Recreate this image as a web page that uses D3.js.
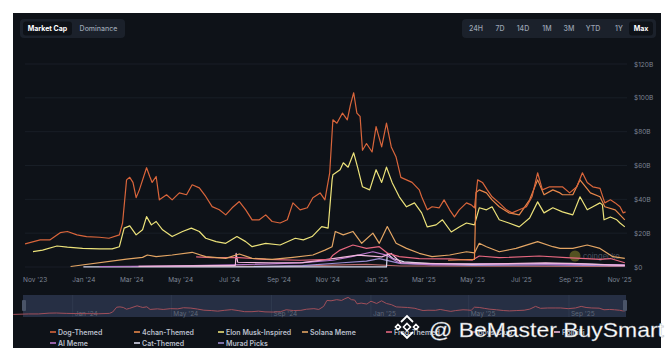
<!DOCTYPE html>
<html><head><meta charset="utf-8">
<script src="https://cdn.jsdelivr.net/npm/d3@7"></script>
<style>body{margin:0;background:#fff;} svg{display:block;font-family:Inter,"Noto Sans",sans-serif;}</style>
</head><body><svg id="c" width="672" height="357"></svg>
<script>
const categories = ["Dog-Themed","4chan-Themed","Elon Musk-Inspired","Solana Meme","Frog-Themed","Boys Club","PolitiFi","AI Meme","Cat-Themed","Murad Picks"];
const colors = ["#d9653b","#e8874a","#ece27a","#e3a564","#e5677f","#b86a6a","#f2b8dc","#b875cc","#d8d8ec","#9b8cd0"];
const rangeButtons = ["24H","7D","14D","1M","3M","YTD","1Y","Max"];
const toggleButtons = ["Market Cap","Dominance"];
const yTicks = [0,20,40,60,80,100,120];

const dogThemed = [["2023-10-20",13.6],["2023-11-08",16],["2023-11-20",16],["2023-12-03",20.3],["2023-12-12",21],["2023-12-24",19],["2024-01-05",18],["2024-01-21",17.6],["2024-02-02",17],["2024-02-15",19],["2024-02-19",26],["2024-02-24",51.5],["2024-02-28",53],["2024-03-03",50],["2024-03-07",41],["2024-03-11",45.6],["2024-03-20",58.7],["2024-03-24",53.5],["2024-03-27",50],["2024-04-01",53.5],["2024-04-05",39.7],["2024-04-14",42.7],["2024-04-21",39.7],["2024-04-30",43.8],["2024-05-09",42.7],["2024-05-16",48.6],["2024-05-25",46.8],["2024-06-02",41.7],["2024-06-10",35.7],["2024-06-19",33.8],["2024-06-27",30.8],["2024-07-05",35],["2024-07-14",38.7],["2024-07-22",33.8],["2024-07-30",27.9],["2024-08-08",27.9],["2024-08-16",30.8],["2024-08-24",26.9],["2024-09-03",26],["2024-09-12",27.9],["2024-09-19",37.9],["2024-09-28",33.8],["2024-10-07",35],["2024-10-14",40.9],["2024-10-23",43.8],["2024-10-29",39.7],["2024-11-04",55.7],["2024-11-08",87],["2024-11-13",85],["2024-11-20",91],["2024-11-26",87],["2024-11-30",96],["2024-12-04",103],["2024-12-08",91],["2024-12-12",89],["2024-12-15",69],["2024-12-20",73],["2024-12-27",68],["2025-01-01",83],["2025-01-08",71],["2025-01-14",85],["2025-01-20",71],["2025-01-26",65],["2025-02-01",53],["2025-02-08",51.5],["2025-02-15",50],["2025-02-24",45.6],["2025-02-27",41.5],["2025-03-06",33.8],["2025-03-12",35.6],["2025-03-21",35],["2025-03-27",39.7],["2025-04-03",33.8],["2025-04-09",29.6],["2025-04-15",33.8],["2025-04-24",37.9],["2025-04-30",36.7],["2025-05-04",35],["2025-05-08",51.5],["2025-05-14",50],["2025-05-20",45.6],["2025-05-26",41.5],["2025-06-04",37.9],["2025-06-13",33.8],["2025-06-20",32],["2025-06-29",33.8],["2025-07-08",35.6],["2025-07-15",41.5],["2025-07-22",55.7],["2025-07-28",45.6],["2025-08-06",47.4],["2025-08-15",47.4],["2025-08-22",47.4],["2025-08-31",43.8],["2025-09-09",47.4],["2025-09-16",55.7],["2025-09-22",50],["2025-09-29",47.4],["2025-10-08",46.5],["2025-10-14",37.9],["2025-10-21",39.7],["2025-10-27",37.9],["2025-11-02",35.6],["2025-11-06",32],["2025-11-09",32.6]];

const fourChanThemed = [["2025-04-01",4],["2025-05-04",4.5],["2025-05-06",44],["2025-05-10",45.6],["2025-05-19",43.8],["2025-05-26",39.7],["2025-06-04",35.6],["2025-06-16",32],["2025-06-29",30.8],["2025-07-12",39.7],["2025-07-22",51.5],["2025-07-30",42.7],["2025-08-10",45.6],["2025-08-19",43.8],["2025-08-22",42.7],["2025-09-04",42.7],["2025-09-13",51.5],["2025-09-26",43.8],["2025-10-08",41.5],["2025-10-14",35.6],["2025-10-27",33.8],["2025-11-08",27.9]];

const elonMusk = [["2023-10-30",9.1],["2023-11-11",10],["2023-11-29",12.4],["2023-12-12",11.7],["2023-12-31",11],["2024-01-21",10.7],["2024-02-06",10.7],["2024-02-15",12],["2024-02-21",23],["2024-02-28",24.3],["2024-03-07",19],["2024-03-15",22],["2024-03-20",29.8],["2024-03-26",24.9],["2024-04-01",26.9],["2024-04-09",22],["2024-04-21",18],["2024-05-04",21],["2024-05-15",23],["2024-05-25",21],["2024-06-02",17],["2024-06-15",15],["2024-06-27",14],["2024-07-11",18],["2024-07-22",15],["2024-07-30",12],["2024-08-16",14],["2024-09-03",13],["2024-09-22",17],["2024-10-02",16],["2024-10-13",18],["2024-10-25",23.9],["2024-11-02",23],["2024-11-07",51.5],["2024-11-08",54.5],["2024-11-17",57.5],["2024-11-21",61.6],["2024-11-27",59],["2024-12-04",67.5],["2024-12-09",58.7],["2024-12-15",47.4],["2024-12-24",45.6],["2025-01-01",57.5],["2025-01-08",50],["2025-01-14",59],["2025-01-21",50],["2025-01-30",41.5],["2025-02-08",35.6],["2025-02-18",37.9],["2025-02-27",32],["2025-03-06",23.7],["2025-03-17",24.9],["2025-03-25",27.9],["2025-04-05",20.7],["2025-04-15",23.7],["2025-04-24",26],["2025-05-04",24.9],["2025-05-10",35],["2025-05-19",33.8],["2025-05-26",35.6],["2025-06-04",27.9],["2025-06-16",26],["2025-06-29",23.7],["2025-07-12",29],["2025-07-22",38.5],["2025-07-30",32],["2025-08-10",35],["2025-08-22",32.6],["2025-09-04",30.8],["2025-09-13",41.5],["2025-09-22",33.8],["2025-09-29",35.6],["2025-10-08",37.9],["2025-10-11",36.7],["2025-10-13",27.9],["2025-10-21",29.6],["2025-10-29",27.9],["2025-11-02",26],["2025-11-08",23.7]];

const solanaMeme = [["2023-12-16",0.3],["2024-02-24",4.7],["2024-03-15",5.7],["2024-03-21",7.1],["2024-04-01",6.1],["2024-04-21",7.1],["2024-05-16",8.7],["2024-06-02",6.1],["2024-06-27",5.1],["2024-07-14",7.7],["2024-07-30",5.1],["2024-08-24",4.5],["2024-09-19",5.7],["2024-10-14",7.1],["2024-10-29",10],["2024-11-07",12],["2024-11-11",21],["2024-11-21",19],["2024-12-03",21],["2024-12-14",14],["2024-12-28",20],["2025-01-05",14],["2025-01-15",23.9],["2025-01-26",14],["2025-02-08",11],["2025-02-24",8.1],["2025-03-12",6.1],["2025-04-03",7.1],["2025-04-24",9],["2025-05-04",8.3],["2025-05-10",14],["2025-05-19",12],["2025-06-04",9],["2025-06-25",11],["2025-07-22",15],["2025-08-10",12],["2025-08-19",11],["2025-09-04",11],["2025-09-22",13],["2025-10-08",11],["2025-10-24",6.1],["2025-11-08",5.1]];

const frogThemed = [["2024-05-21",6],["2024-06-10",5.5],["2024-07-14",5.5],["2024-08-16",4.5],["2024-09-28",4],["2024-11-04",4.5],["2024-11-08",7],["2024-11-17",10],["2024-12-03",13],["2024-12-20",11],["2025-01-05",12],["2025-01-15",8.3],["2025-01-30",6.1],["2025-02-24",5],["2025-04-03",4.8],["2025-05-01",4],["2025-05-10",6.5],["2025-06-04",5.5],["2025-07-24",6.5],["2025-08-27",5.5],["2025-10-08",4.5],["2025-10-21",5],["2025-11-08",2.5]];

const boysClub = [["2024-03-01",0.3],["2024-06-01",0.5],["2024-09-01",0.4],["2024-11-20",1.2],["2024-12-20",1.5],["2025-02-01",0.6],["2025-06-01",0.5],["2025-11-08",0.3]];

const politiFi = [["2024-03-10",0.4],["2024-07-09",1],["2024-07-10",8],["2024-07-12",2.8],["2024-08-20",2.5],["2024-10-01",2.6],["2024-11-08",5],["2024-12-09",7],["2025-01-08",6],["2025-01-20",8],["2025-02-01",2.5],["2025-05-01",1.5],["2025-08-01",2.5],["2025-11-08",1]];

const aiMeme = [["2024-01-21",0.3],["2024-04-14",0.6],["2024-07-05",1.2],["2024-09-28",2.4],["2024-11-08",4],["2024-11-30",6],["2024-12-28",9],["2025-01-14",7],["2025-01-30",2.4],["2025-03-12",1.2],["2025-06-04",1.8],["2025-09-01",1.5],["2025-11-08",1.2]];

const catThemed = [["2024-01-01",0.05],["2025-01-14",0.05],["2025-01-15",8],["2025-01-22",5],["2025-02-05",3],["2025-03-10",2],["2025-06-01",1.8],["2025-09-01",2.2],["2025-11-08",1]];

const muradPicks = [["2024-08-01",0.3],["2024-10-01",0.8],["2024-11-20",2.5],["2024-12-20",3.5],["2025-01-05",5],["2025-02-01",2],["2025-05-01",1],["2025-08-01",1.3],["2025-11-08",0.6]];

const seriesData = [dogThemed,fourChanThemed,elonMusk,solanaMeme,frogThemed,boysClub,politiFi,aiMeme,catThemed,muradPicks];
const drawOrder = [5,9,8,7,6,4,3,2,1,0];

const parse = d3.timeParse("%Y-%m-%d");
const series = seriesData.map((arr,i)=>({name:categories[i],color:colors[i],pts:arr.map(d=>({date:parse(d[0]),v:d[1]}))}));

const svg = d3.select("#c");
svg.append("rect").attr("x",13).attr("y",13).attr("width",648).attr("height",335).attr("fill","#0e1218");

// toggle group
const tg = svg.append("g");
tg.append("rect").attr("x",20).attr("y",19).attr("width",105).attr("height",19).attr("rx",4).attr("fill","#1b212b");
tg.append("rect").attr("x",23).attr("y",21.5).attr("width",49).attr("height",14).attr("rx",3).attr("fill","#0e1218");
[[47.5,"#ffffff",700],[98.5,"#9aa3b2",500]].forEach((p,i)=>{
  tg.append("text").attr("x",p[0]).attr("y",31).attr("text-anchor","middle").attr("font-size",7).attr("font-weight",p[2]).attr("fill",p[1]).text(toggleButtons[i]);
});

// range buttons
const rg = svg.append("g");
rg.append("rect").attr("x",462).attr("y",19).attr("width",194).attr("height",19).attr("rx",4).attr("fill","#1b212b");
rg.append("rect").attr("x",629).attr("y",21.5).attr("width",24).attr("height",14).attr("rx",3).attr("fill","#0e1218");
const btnX = [476,500,523,547,569,593,619,641];
rangeButtons.forEach((b,i)=>{
  rg.append("text").attr("x",btnX[i]).attr("y",31).attr("text-anchor","middle").attr("font-size",7)
    .attr("font-weight",i===7?700:500).attr("fill",i===7?"#ffffff":"#9aa3b2").text(b);
});

// scales
const x = d3.scaleTime().domain([parse("2023-10-20"),parse("2025-11-10")]).range([25,626.4]);
const y = d3.scaleLinear().domain([0,120]).range([267,64]);

// grid
svg.append("g").selectAll("line").data(yTicks).join("line")
  .attr("x1",25).attr("x2",627).attr("y1",d=>y(d)).attr("y2",d=>y(d))
  .attr("stroke","#1c222b").attr("stroke-width",0.8);

// y axis
const yAx = svg.append("g").attr("transform","translate(631,0)")
  .call(d3.axisRight(y).tickValues(yTicks).tickSize(0).tickPadding(3).tickFormat(d=>d===0?"$0":"$"+d+"B"));
yAx.select(".domain").remove();
yAx.selectAll("text").attr("font-size",6.5).attr("fill","#7d8594").attr("font-family","Inter,'Noto Sans',sans-serif");

// x axis
const xAx = svg.append("g").attr("transform","translate(0,275)")
  .call(d3.axisBottom(x).ticks(d3.timeMonth.every(2)).tickSize(0).tickPadding(2).tickFormat(d3.timeFormat("%b '%y")));
xAx.select(".domain").remove();
xAx.selectAll("text").attr("font-size",6.5).attr("fill","#7d8594").attr("font-family","Inter,'Noto Sans',sans-serif");

// coingecko mark
svg.append("circle").attr("cx",575).attr("cy",256).attr("r",5.5).attr("fill","#5b5a22").attr("opacity",0.9);
svg.append("text").attr("x",583).attr("y",259).attr("font-size",7.5).attr("fill","#4d5563").text("coingecko");

// lines
svg.append("clipPath").attr("id","pc").append("rect").attr("x",25).attr("y",40).attr("width",603).attr("height",229);
const line = d3.line().x(d=>x(d.date)).y(d=>y(d.v));
const lg = svg.append("g").attr("clip-path","url(#pc)");
drawOrder.forEach(i=>{
  lg.append("path").datum(series[i].pts).attr("d",line).attr("fill","none")
    .attr("stroke",series[i].color).attr("stroke-width",1.2).attr("stroke-linejoin","round");
});

// navigator
const nx = d3.scaleTime().domain([parse("2023-11-01"),parse("2025-11-10")]).range([23,626]);
const ny = d3.scaleLinear().domain([0,105]).range([317,297]);
svg.append("rect").attr("x",23).attr("y",295).attr("width",603).attr("height",22).attr("fill","#262f44");
const navTicks = nx.ticks(d3.timeMonth.every(4));
svg.append("g").selectAll("line").data(navTicks).join("line")
  .attr("x1",d=>nx(d)).attr("x2",d=>nx(d)).attr("y1",295).attr("y2",317).attr("stroke","#323c52").attr("stroke-width",0.8);
svg.append("g").selectAll("text").data(navTicks).join("text")
  .attr("x",d=>nx(d)+2).attr("y",316).attr("font-size",6.5).attr("fill","#5f6878").text(d3.timeFormat("%b '%y"));
const nline = d3.line().x(d=>nx(d.date)).y(d=>ny(d.v));
svg.append("path").datum(series[0].pts).attr("d",nline).attr("fill","none").attr("stroke","#a14f5a").attr("stroke-width",1);
svg.append("rect").attr("x",22).attr("y",300).attr("width",4).attr("height",11).attr("rx",1).attr("fill","#4a5468");
svg.append("rect").attr("x",623).attr("y",300).attr("width",4).attr("height",11).attr("rx",1).attr("fill","#4a5468");

// legend
const leg = svg.append("g");
categories.forEach((c,i)=>{
  const row = i<7?0:1, col = i<7?i:i-7;
  const lx = 50+84*col, ly = row===0?332:343;
  leg.append("line").attr("x1",lx).attr("x2",lx+6).attr("y1",ly).attr("y2",ly).attr("stroke",colors[i]).attr("stroke-width",1.6);
  leg.append("text").attr("x",lx+8).attr("y",ly+2.5).attr("font-size",7).attr("font-weight",600).attr("fill","#b9bfca").text(c);
});

// watermark
const wm = svg.append("g");
const lc = [407,327];
const dia = (cx,cy,r)=>`M${cx},${cy-r}L${cx+r},${cy}L${cx},${cy+r}L${cx-r},${cy}Z`;
wm.append("path").attr("d",dia(lc[0],lc[1],3.5)).attr("fill","none").attr("stroke","#fff").attr("stroke-width",1.6);
wm.append("path").attr("d",dia(lc[0]-9,lc[1],2.5)).attr("fill","none").attr("stroke","#fff").attr("stroke-width",1.6);
wm.append("path").attr("d",dia(lc[0]+9,lc[1],2.5)).attr("fill","none").attr("stroke","#fff").attr("stroke-width",1.6);
wm.append("path").attr("d",`M${lc[0]-6},${lc[1]-5}L${lc[0]},${lc[1]-11}L${lc[0]+6},${lc[1]-5}`).attr("fill","none").attr("stroke","#fff").attr("stroke-width",1.8);
wm.append("path").attr("d",`M${lc[0]-6},${lc[1]+5}L${lc[0]},${lc[1]+11}L${lc[0]+6},${lc[1]+5}`).attr("fill","none").attr("stroke","#fff").attr("stroke-width",1.8);
wm.append("text").attr("x",429).attr("y",337).attr("font-size",21).attr("font-family","'Liberation Sans',Arial,sans-serif")
  .attr("fill","#ffffff").attr("stroke","#9aa0a8").attr("stroke-width",0.3)
  .attr("textLength",235).attr("lengthAdjust","spacingAndGlyphs").text("@ BeMaster BuySmart");
</script></body></html>
